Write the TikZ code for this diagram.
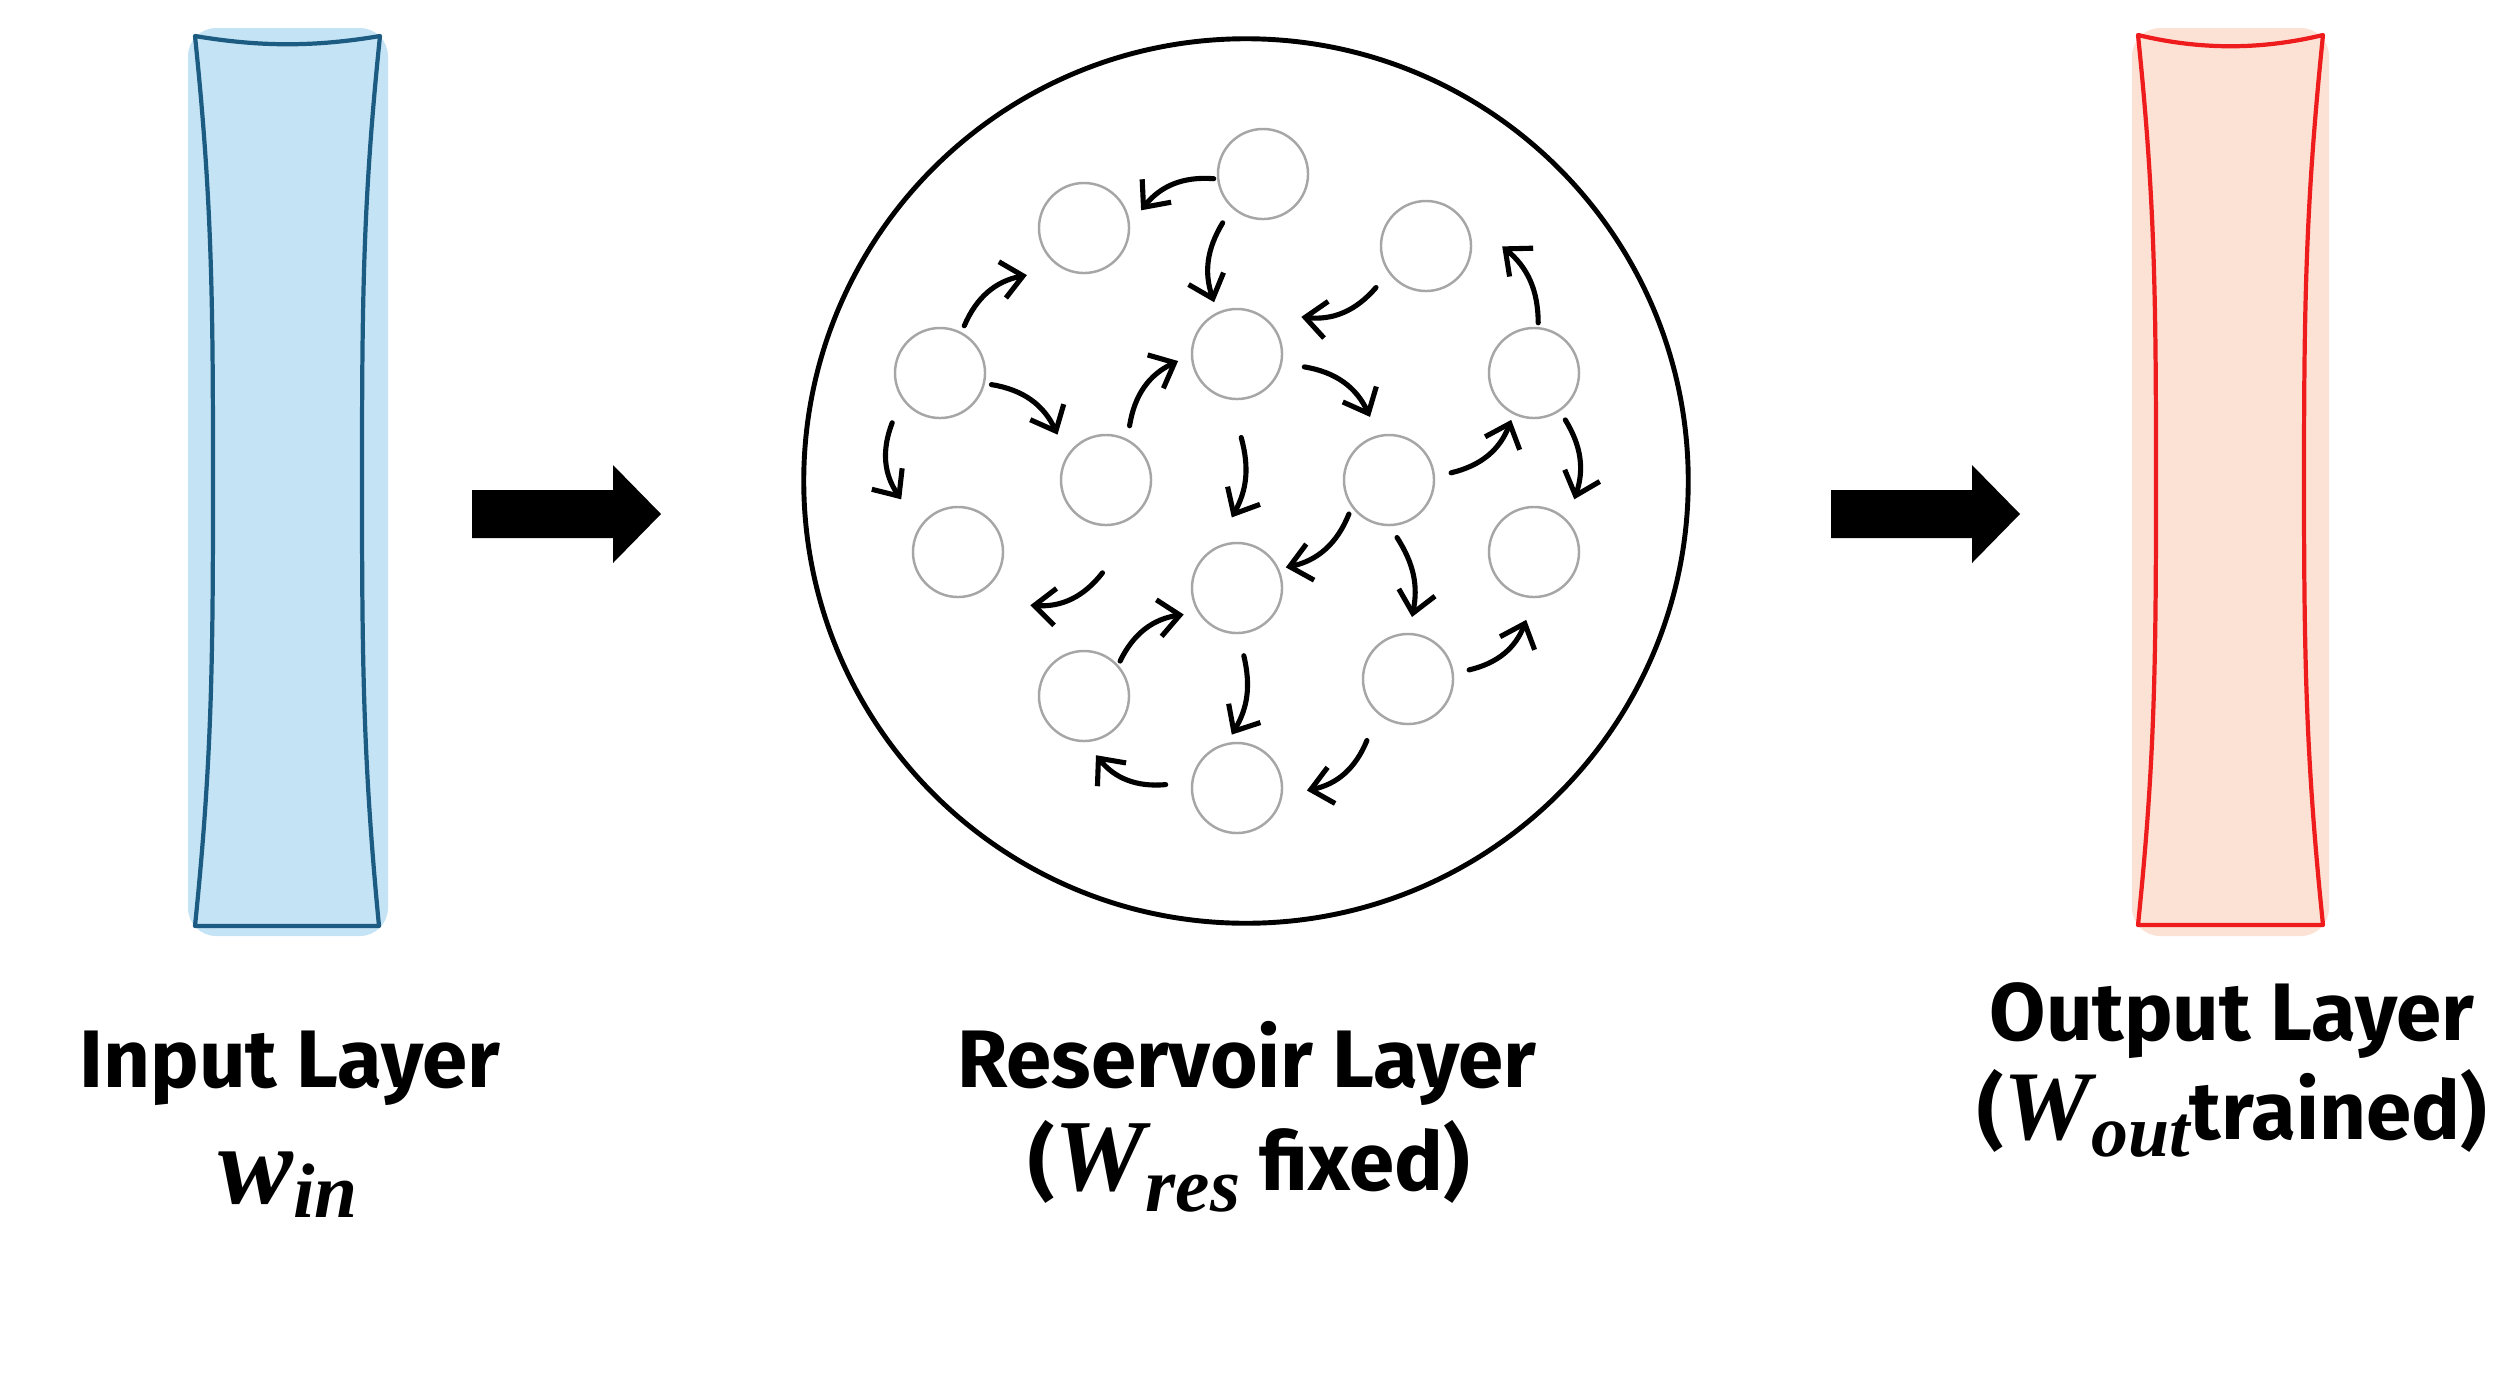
\documentclass[tikz,border=0pt]{standalone}
\usepackage{fontspec}
\setmainfont{Fira Sans}
\newfontfamily\mserif{Liberation Serif}
\usetikzlibrary{arrows.meta}
\definecolor{inFill}{HTML}{C4E4F5}
\definecolor{inLine}{HTML}{1D5C82}
\definecolor{outFill}{HTML}{FCE2D5}
\definecolor{outLine}{HTML}{EE1C1C}
\definecolor{nodeGray}{HTML}{A6A6A6}
\begin{document}
\begin{tikzpicture}[x=0.01cm,y=-0.01cm,
  neuron/.style={circle, draw=nodeGray, line width=0.7pt, minimum size=0.9cm, inner sep=0pt, outer sep=0pt},
  arr/.style={line width=1.45pt, line cap=round, -{Straight Barb[length=6pt,width=10.5pt,line width=1.45pt]}},
  lbl/.style={font=\fontsize{23.2}{28}\selectfont\bfseries, anchor=base, inner sep=0pt},
  mlbl/.style={anchor=base, inner sep=0pt},
  blockarrow/.style={fill=black},
  barline/.style={line width=1.2pt, line join=round}]
\useasboundingbox (0,0) rectangle (2520,1384);

% input layer bar
\fill[inFill, rounded corners=8] (188,28) rectangle (388,936);
\draw[inLine, barline] (195,36) .. controls (260,47) and (315,47) .. (380,36)
  .. controls (363,200) and (362,300) .. (362,480)
  .. controls (362,660) and (363,760) .. (379,926) -- (195,926)
  .. controls (212,760) and (213,660) .. (213,480)
  .. controls (213,300) and (212,200) .. (195,36) -- cycle;

% output layer bar
\fill[outFill, rounded corners=8] (2132,28) rectangle (2329,936);
\draw[outLine, barline] (2138,35) .. controls (2200,50) and (2261,50) .. (2323,35)
  .. controls (2306,200) and (2304,300) .. (2304,480)
  .. controls (2304,660) and (2306,760) .. (2323,925) -- (2138,925)
  .. controls (2155,760) and (2156,660) .. (2156,480)
  .. controls (2156,300) and (2155,200) .. (2138,35) -- cycle;

% block arrows
\fill[blockarrow] (472,490) -- (613,490) -- (613,465) -- (661,514) -- (613,563) -- (613,538) -- (472,538) -- cycle;
\fill[blockarrow] (1831,490) -- (1972,490) -- (1972,465) -- (2020,514) -- (1972,563) -- (1972,538) -- (1831,538) -- cycle;

% reservoir
\node[circle, draw, line width=1.4pt, minimum size=8.84cm, inner sep=0pt] (res) at (1246,481) {};

\node[neuron] (n1) at (1263,174) {};
\node[neuron] (n2) at (1084,228) {};
\node[neuron] (n3) at (1426,246) {};
\node[neuron] (n4) at (940,373) {};
\node[neuron] (n5) at (1237,354) {};
\node[neuron] (n6) at (1534,373) {};
\node[neuron] (n7) at (1106,480) {};
\node[neuron] (n8) at (1389,480) {};
\node[neuron] (n9) at (958,552) {};
\node[neuron] (n10) at (1534,552) {};
\node[neuron] (n11) at (1237,588) {};
\node[neuron] (n12) at (1084,696) {};
\node[neuron] (n13) at (1408,679) {};
\node[neuron] (n14) at (1237,788) {};

\draw[arr] ([shift={(-49.3,4.7)}]n1.center) to[bend right=28] ([shift={(57.1,-17.7)}]n2.center);
\draw[arr] ([shift={(-40.3,48.8)}]n1.center) to[bend right=25] ([shift={(-22.9,-51.8)}]n5.center);
\draw[arr] ([shift={(-50,41.5)}]n3.center) to[bend left=28] ([shift={(64.3,-37.1)}]n5.center);
\draw[arr] ([shift={(24.3,-47.2)}]n4.center) to[bend left=28] ([shift={(-57.1,47.1)}]n2.center);
\draw[arr] ([shift={(51.4,11.6)}]n4.center) to[bend left=28] ([shift={(-48.5,-45.4)}]n7.center);
\draw[arr] ([shift={(-47.8,49.8)}]n4.center) to[bend right=28] ([shift={(-56.8,-52.7)}]n9.center);
\draw[arr] ([shift={(23.6,-54.2)}]n7.center) to[bend left=28] ([shift={(-58.9,7)}]n5.center);
\draw[arr] ([shift={(67.3,12.9)}]n5.center) to[bend left=28] ([shift={(-19,-63.1)}]n8.center);
\draw[arr] ([shift={(4.2,-50.2)}]n6.center) to[bend right=25] ([shift={(76.2,0.4)}]n3.center);
\draw[arr] ([shift={(31.3,46.9)}]n6.center) to[bend left=25] ([shift={(40.3,-52.7)}]n10.center);
\draw[arr] ([shift={(62.1,-7.2)}]n8.center) to[bend right=28] ([shift={(-22.8,46.9)}]n6.center);
\draw[arr] ([shift={(4.2,83.5)}]n5.center) to[bend left=22] ([shift={(-5.2,-70.6)}]n11.center);
\draw[arr] ([shift={(-40.1,34)}]n8.center) to[bend left=28] ([shift={(48.8,-20.6)}]n11.center);
\draw[arr] ([shift={(8,57.5)}]n8.center) to[bend left=22] ([shift={(4,-62)}]n13.center);
\draw[arr] ([shift={(-3.5,92.8)}]n7.center) to[bend left=28] ([shift={(72.4,53.2)}]n9.center);
\draw[arr] ([shift={(36.1,-34.9)}]n12.center) to[bend left=28] ([shift={(-53.3,26.5)}]n11.center);
\draw[arr] ([shift={(6.8,67.7)}]n11.center) to[bend left=22] ([shift={(-5.2,-53.4)}]n14.center);
\draw[arr] ([shift={(61.1,-9.1)}]n13.center) to[bend right=28] ([shift={(-7.8,67.9)}]n10.center);
\draw[arr] ([shift={(-41.1,61.5)}]n13.center) to[bend left=28] ([shift={(69.9,2.5)}]n14.center);
\draw[arr] ([shift={(-71.3,-3.4)}]n14.center) to[bend left=28] ([shift={(12,59.2)}]n12.center);

% labels
\node[lbl] (inlbl) at (290,1087) {Input Layer};
\node[mlbl] (inw) at (288,1203) {\mserif\bfseries\itshape\fontsize{32}{32}\selectfont w\raisebox{-4pt}{\fontsize{22}{22}\selectfont in}};
\node[lbl] (reslbl) at (1247,1087) {Reservoir Layer};
\node[lbl] (reslbl2) at (1249,1190) {({\mserif\itshape\fontsize{29}{29}\selectfont W\raisebox{-6pt}{\fontsize{22}{22}\selectfont res}}\ fixed)};
\node[lbl] (outlbl) at (2232,1040) {Output Layer};
\node[lbl] (outlbl2) at (2232,1139) {({\mserif\itshape\fontsize{28}{28}\selectfont W\raisebox{-5pt}{\fontsize{21}{21}\selectfont out}}trained)};
\end{tikzpicture}
\end{document}
